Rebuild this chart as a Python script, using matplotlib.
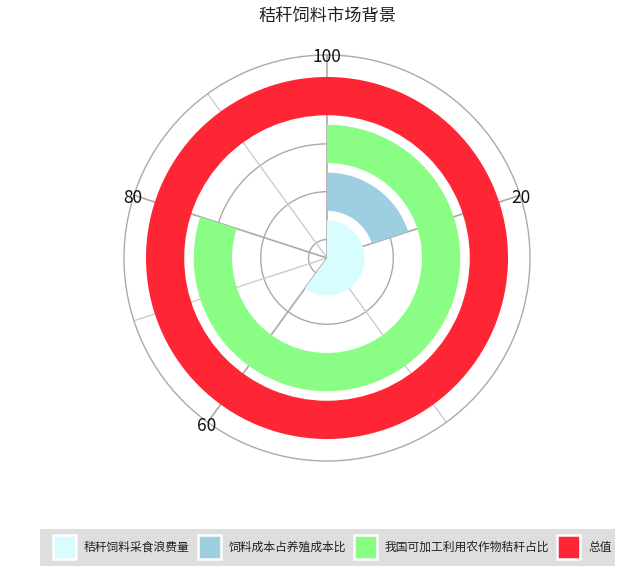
import matplotlib
matplotlib.use("Agg")
import matplotlib.pyplot as plt
import matplotlib.transforms as mtransforms
import numpy as np
from matplotlib.patches import Rectangle

plt.rcParams["font.family"] = ["Noto Sans CJK SC", "DejaVu Sans"]

title = "秸秆饲料市场背景"
series_names = ["秸秆饲料采食浪费量", "饲料成本占养殖成本比", "我国可加工利用农作物秸秆占比", "总值"]
series_values = [60, 20, 80, 100]
series_colors = ["#d7fdfe", "#9ecfe0", "#8afe84", "#fe2634"]

angle_max = 100
tick_values = [100, 20, 60, 80]
major_lines = [0, 20, 60, 80]
minor_lines = [40, 70, 90]

W, H = 633, 574
cx, cy, R = 327, 258, 203
band = 47.8          # pixels per radial category
first = 18.5         # pixel radius of category 0
rmin = -first / band
rmax = (R - first) / band


def to_theta(v):
    return (v % angle_max) / angle_max * 2 * np.pi


fig = plt.figure(figsize=(W / 100, H / 100), dpi=100)
ax = fig.add_axes([(cx - R) / W, (H - cy - R) / H, 2 * R / W, 2 * R / H], projection="polar")
ax.set_theta_zero_location("N")
ax.set_theta_direction(-1)
ax.set_ylim(rmin, rmax)

# radial lines under the bars
for v in minor_lines:
    ax.plot([to_theta(v)] * 2, [rmin, rmax], color="#cccccc", lw=1, zorder=1)
for v in major_lines:
    ax.plot([to_theta(v)] * 2, [rmin, rmax], color="#aaaaaa", lw=1.2, zorder=1)

ax.set_yticks(range(len(series_values)))
ax.set_yticklabels([])
ax.yaxis.grid(True, color="#aaaaaa", lw=1)
ax.xaxis.grid(False)
ax.set_xticks([to_theta(v) for v in major_lines])
ax.set_xticklabels([])
ax.tick_params(axis="x", direction="out", length=5, color="#aaaaaa", width=1.2)
ax.spines["polar"].set_color("#aaaaaa")
ax.spines["polar"].set_linewidth(1)
ax.set_axisbelow(True)

for i, (v, c) in enumerate(zip(series_values, series_colors)):
    ax.bar(0, 0.8, width=to_theta(v) if v < angle_max else 2 * np.pi,
           bottom=i - 0.4, align="edge", color=c, lw=0, zorder=3)

label_trans = mtransforms.offset_copy(ax.transData, fig=fig, x=0, y=-3, units="dots")
for v in tick_values:
    ax.text(to_theta(v), rmax + 0.02, str(v), ha="center", va="center", transform=label_trans,
            fontsize=12.5, color="#111111", zorder=5, clip_on=False)

fig.text(cx / W, 1 - 16 / H, title, ha="center", va="center", fontsize=12.4, color="#222222")

# legend
fig.add_artist(Rectangle((40 / W, 1 - 566 / H), 575 / W, 37 / H, transform=fig.transFigure,
                         facecolor="#dedede", edgecolor="none"))
legend_x = [53, 198, 354, 557]
for x, name, c in zip(legend_x, series_names, series_colors):
    fig.add_artist(Rectangle((x / W, 1 - 559 / H), 23 / W, 24 / H, transform=fig.transFigure,
                             facecolor=c, edgecolor="white", lw=1.8))
    fig.text((x + 31) / W, 1 - 547.5 / H, name, ha="left", va="center", fontsize=8.5, color="#222222")

fig.savefig("out.png", dpi=100)
